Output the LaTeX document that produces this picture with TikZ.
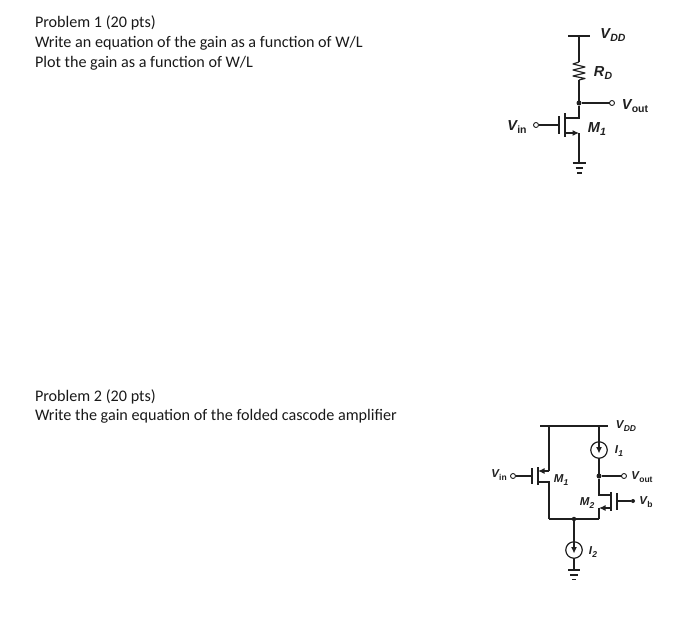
\documentclass[tikz,border=0pt]{standalone}
\usepackage{fontspec}
\setmainfont{Carlito}
\newfontfamily\circfont{Liberation Sans}
\usetikzlibrary{arrows.meta}
\definecolor{ink}{gray}{0.12}
\definecolor{txt}{gray}{0.1}
\newcommand{\labsub}[2]{{\circfont\bfseries\itshape #1\kern0.2pt\raisebox{-0.22em}{\subsz #2}}}
\newcommand{\upsub}[1]{\normalfont\circfont\bfseries #1}
\tikzset{
  x=1pt,y=-1pt,
  every node/.style={inner sep=0pt,outer sep=0pt},
  wire/.style={draw=ink,line width=1.2pt},
  bar/.style={draw=ink,line width=1.7pt},
  textline/.style={anchor=base west,font=\fontsize{16.15}{18}\selectfont,text=txt},
  lab/.style={anchor=center,text=ink,font=\fontsize{14.5}{16}\selectfont\def\subsz{\fontsize{10.5}{12}\selectfont}},
  smalllab/.style={anchor=center,text=ink,font=\fontsize{11.5}{13}\selectfont\def\subsz{\fontsize{8.5}{10}\selectfont}},
  term/.style={circle,draw=ink,line width=0.9pt,fill=white,minimum size=5pt},
  dotn/.style={circle,fill=ink,minimum size=#1},
  dotn/.default=5pt,
  csrc/.style={circle,draw=ink,line width=1.2pt,minimum size=16.5pt},
  tip/.style={-{Latex[length=6.5pt,width=6pt]}}
}
\begin{document}
\begin{tikzpicture}
\useasboundingbox (0,0) rectangle (700,635);
% text
\node[textline] (p1a) at (35,27.5) {Problem 1 (20 pts)};
\node[textline] (p1b) at (35,47.5) {Write an equation of the gain as a function of W/L};
\node[textline] (p1c) at (35,67.5) {Plot the gain as a function of W/L};
\node[textline] (p2a) at (35,401.5) {Problem 2 (20 pts)};
\node[textline] (p2b) at (35,420.5) {Write the gain equation of the folded cascode amplifier};

% --- circuit 1
\coordinate (vddL) at (568,36);
\coordinate (vddR) at (590,36);
\coordinate (vddM) at (579,36);
\coordinate (rT) at (579,62);
\coordinate (rB) at (579,80);
\node[dotn] (out) at (579,103) {};
\node[term] (voutT) at (612,103) {};
\coordinate (dr) at (579,118);
\coordinate (drG) at (565,118);
\coordinate (chT) at (565,113);
\coordinate (chB) at (565,137);
\coordinate (gT) at (559,116);
\coordinate (gB) at (559,134);
\coordinate (gM) at (559,125);
\node[term] (vinT) at (536,125) {};
\coordinate (sG) at (565,133);
\coordinate (s) at (579,133);
\coordinate (gnd) at (579,163);
\draw[bar] (vddL) -- (vddR);
\draw[wire] (vddM) -- (rT);
\draw[wire,line join=round] (rT) -- ++(-6,2) -- ++(12,3) -- ++(-12,3) -- ++(12,3) -- ++(-12,3) -- ++(12,2.5) -- (rB);
\draw[wire] (rB) -- (out);
\draw[wire] (out) -- (dr) -- (drG);
\draw[wire] (out) -- (voutT);
\draw[bar] (chT) -- (chB);
\draw[bar] (gT) -- (gB);
\draw[wire] (vinT) -- (gM);
\draw[wire,tip] (sG) -- (s);
\draw[wire] (s) -- (gnd);
\draw[wire] (572.5,163) -- (586,163);
\draw[wire] (575.5,168) -- (583,168);
\draw[wire] (577,173) -- (581.5,173);
\node[lab] (l1) at (613,35) {\labsub{V}{\itshape DD}};
\node[lab] (l2) at (603,73) {\labsub{R}{\itshape D}};
\node[lab] (l3) at (635,106) {\labsub{V}{\upsub{out}}};
\node[lab] (l4) at (517,127) {\labsub{V}{\upsub{in}}};
\node[lab] (l5) at (597,129) {\labsub{M}{\itshape 1}};

% --- circuit 2
\coordinate (bL) at (540,426);
\coordinate (bR) at (608,426);
\coordinate (m1D) at (549,426);
\coordinate (i1T) at (599,426);
\node[csrc] (I1) at (599,450) {};
\node[dotn] (o2) at (599,476) {};
\node[term] (vout2) at (624,476) {};
\coordinate (m2Dg) at (611,495);
\coordinate (m2D) at (599,495);
\coordinate (ch2T) at (611,492);
\coordinate (ch2B) at (611,511);
\coordinate (g2T) at (617,493);
\coordinate (g2B) at (617,510);
\coordinate (g2M) at (617,501);
\node[dotn=4pt] (vb) at (633,501) {};
\coordinate (m2Sg) at (611,508);
\coordinate (m2S) at (599,508);
\coordinate (m2Sb) at (599,519);
\node[dotn=4.5pt] (j) at (574,519) {};
\coordinate (m1Sb) at (549,519);
\coordinate (m1B) at (549,482);
\coordinate (m1Bg) at (538,482);
\coordinate (m1T) at (549,471);
\coordinate (m1Tg) at (538,471);
\coordinate (ch1T) at (538,467);
\coordinate (ch1B) at (538,485);
\coordinate (g1T) at (532,468);
\coordinate (g1B) at (532,484);
\coordinate (g1M) at (532,476);
\node[term] (vin2) at (513,476) {};
\node[csrc] (I2) at (574,550) {};
\coordinate (gnd2) at (574,570);

\draw[bar] (bL) -- (bR);
\draw[wire] (i1T) -- (I1);
\draw[wire] (I1) -- (o2);
\draw[wire] (o2) -- (m2D) -- (m2Dg);
\draw[wire] (o2) -- (vout2);
\draw[bar] (ch2T) -- (ch2B);
\draw[bar] (g2T) -- (g2B);
\draw[wire] (g2M) -- (vb);
\draw[wire,tip] (m2Sg) -- (m2S);
\draw[wire] (m2Sb) -- (m2S);
\draw[wire] (m1Sb) -- (m2Sb);
\draw[wire] (j) -- (I2);
\draw[wire] (I2) -- (gnd2);
\draw[wire] (m1D) -- (m1T);
\draw[wire,tip] (m1T) -- (m1Tg);
\draw[wire] (m1Bg) -- (m1B) -- (m1Sb);
\draw[bar] (ch1T) -- (ch1B);
\draw[bar] (g1T) -- (g1B);
\draw[wire] (vin2) -- (g1M);
\draw[wire,tip] (I1.north) -- ([yshift=-3.5pt]I1.center);
\draw[wire,tip] (I2.north) -- ([yshift=-3.5pt]I2.center);
\draw[wire] (568,570) -- (580,570);
\draw[wire] (570,575) -- (578,575);
\draw[wire] (572,579.5) -- (576,579.5);
\node[smalllab] (c1) at (626,426) {\labsub{V}{\itshape DD}};
\node[smalllab] (c2) at (619,451) {\labsub{I}{\itshape 1}};
\node[smalllab] (c3) at (642,477) {\labsub{V}{\upsub{out}}};
\node[smalllab] (c4) at (646,502) {\labsub{V}{\upsub{b}}};
\node[smalllab] (c5) at (587,503) {\labsub{M}{\itshape 2}};
\node[smalllab] (c6) at (561,480) {\labsub{M}{\itshape 1}};
\node[smalllab] (c7) at (499,475) {\labsub{V}{\upsub{in}}};
\node[smalllab] (c8) at (593,552) {\labsub{I}{\itshape 2}};
\end{tikzpicture}
\end{document}
